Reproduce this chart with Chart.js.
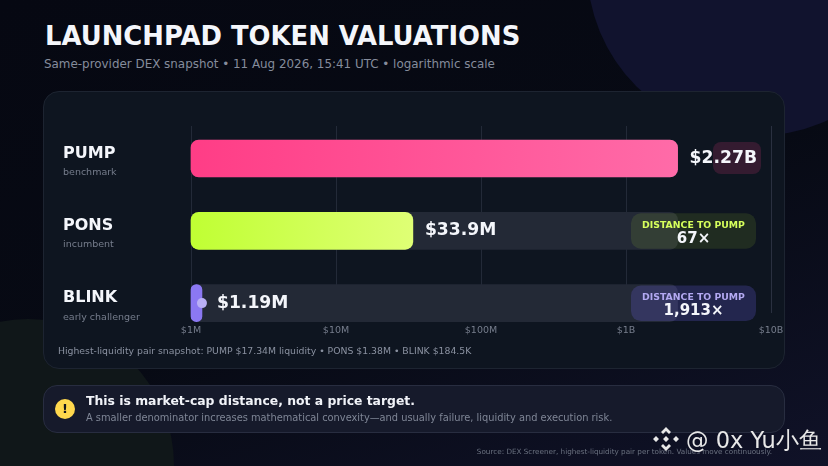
<!DOCTYPE html>
<html>
<head>
<meta charset="utf-8">
<style>
  html, body { margin: 0; padding: 0; }
  body { width: 828px; height: 466px; overflow: hidden; position: relative; background: linear-gradient(160deg, #060812 0%, #070a14 55%, #101228 100%); font-family: "DejaVu Sans", sans-serif; }
  .blob { position: absolute; border-radius: 50%; }
  .navy { left: 587px; top: -202px; width: 338px; height: 338px; background: #11132e; }
  .green { left: -118px; top: 319px; width: 292px; height: 292px; background: #101719; }
  .title { position: absolute; left: 45px; top: 21px; font-size: 25.85px; font-weight: bold; color: #f4f6fb; white-space: nowrap; }
  .sub { position: absolute; left: 44px; top: 57px; font-size: 11.92px; color: #858c9c; white-space: nowrap; }
  .card { position: absolute; left: 43px; top: 91px; width: 740px; height: 276px; background: #0e1520; border: 1px solid #1d2431; border-radius: 16px; }
  .callout { position: absolute; left: 43px; top: 385px; width: 740px; height: 46px; background: #161a2b; border: 1px solid #282d40; border-radius: 14px; }
  canvas { position: absolute; left: 0; top: 0; }
  .snap { position: absolute; left: 58px; top: 345px; font-size: 9.3px; color: #8a91a0; white-space: nowrap; }
  .warn { position: absolute; left: 55px; top: 399px; width: 20px; height: 20px; border-radius: 50%; background: #ffd84d; color: #14161f; font-size: 13px; font-weight: bold; line-height: 20px; text-align: center; }
  .c1 { position: absolute; left: 86px; top: 393px; font-size: 12.4px; font-weight: bold; color: #f1f3f8; white-space: nowrap; }
  .c2 { position: absolute; left: 86px; top: 412px; font-size: 9.83px; color: #7f8696; white-space: nowrap; }
  .src { position: absolute; right: 56px; top: 447px; font-size: 7.23px; color: #6b7280; white-space: nowrap; }
  .mark { position: absolute; left: 686px; top: 425px; font-size: 22.5px; color: #e8e8e8; white-space: nowrap; }
  .logo { position: absolute; left: 652px; top: 425px; }
</style>
</head>
<body>
<div class="blob navy"></div>
<div class="blob green"></div>
<div class="title">LAUNCHPAD TOKEN VALUATIONS</div>
<div class="sub">Same-provider DEX snapshot • 11 Aug 2026, 15:41 UTC • logarithmic scale</div>
<div class="card"></div>
<div class="callout"></div>
<canvas id="chart" width="828" height="466"></canvas>
<div class="snap">Highest-liquidity pair snapshot: PUMP $17.34M liquidity • PONS $1.38M • BLINK $184.5K</div>
<div class="warn">!</div>
<div class="c1">This is market-cap distance, not a price target.</div>
<div class="c2">A smaller denominator increases mathematical convexity—and usually failure, liquidity and execution risk.</div>
<div class="src">Source: DEX Screener, highest-liquidity pair per token. Values move continuously.</div>
<svg class="logo" width="28" height="28" viewBox="0 0 28 28" fill="#e8e8e8">
  <path d="M14 2l5 5-2 2-3-3-3 3-2-2zM14 26l5-5-2-2-3 3-3-3-2 2zM4 11l3 3-3 3-3-3zM24 11l3 3-3 3-3-3zM14 11l3 3-3 3-3-3z"/>
</svg>
<div class="mark">@ 0x Yu小鱼</div>
<script src="https://cdn.jsdelivr.net/npm/chart.js@4"></script>
<script>
const tokens = ['PUMP', 'PONS', 'BLINK'];
const roles = ['benchmark', 'incumbent', 'early challenger'];
const caps = [2270000000, 33900000, 1190000];
const capLabels = ['$2.27B', '$33.9M', '$1.19M'];
const track = [2270000000, 2270000000, 2270000000];
const distance = ['', '67×', '1,913×'];
const tickValues = [1e6, 1e7, 1e8, 1e9, 1e10];
const tickLabels = ['$1M', '$10M', '$100M', '$1B', '$10B'];

const PUMP = ['#ff3d86', '#ff6ba8'], PONS = ['#c0ff33', '#dfff75'], BLINK = ['#8b78f2', '#8b78f2'];
const palette = [PUMP, PONS, BLINK];
const GRID_TOP = 126, GRID_BOTTOM = 313;

function rr(ctx, x, y, w, h, r) {
  ctx.beginPath();
  ctx.roundRect(x, y, w, h, r);
}

// gridlines are shorter than the plot, so they are stroked here from the x scale
const gridLines = {
  id: 'gridLines',
  beforeDatasetsDraw(chart) {
    const { ctx, scales: { x } } = chart;
    ctx.save();
    tickValues.forEach((v, i) => {
      const px = Math.round(x.getPixelForValue(v)) + 0.5;
      ctx.strokeStyle = i === 4 ? '#2a3040' : '#232a38';
      ctx.lineWidth = 1;
      ctx.beginPath();
      ctx.moveTo(px, GRID_TOP);
      ctx.lineTo(px, GRID_BOTTOM);
      ctx.stroke();
    });
    ctx.restore();
  }
};

const rowText = {
  id: 'rowText',
  afterDatasetsDraw(chart) {
    const { ctx, scales: { x, y } } = chart;
    ctx.save();
    ctx.textBaseline = 'middle';
    tokens.forEach((name, i) => {
      const cy = y.getPixelForValue(i);
      ctx.textAlign = 'left';
      ctx.fillStyle = '#f4f6fb';
      ctx.font = 'bold 16px "DejaVu Sans"';
      ctx.fillText(name, 63, cy - 5);
      ctx.fillStyle = '#767d8c';
      ctx.font = '9.5px "DejaVu Sans"';
      ctx.fillText(roles[i], 63, cy + 14);

      const vx = x.getPixelForValue(caps[i]);

      // badges behind the value text
      if (i === 0) {
        ctx.fillStyle = 'rgba(255,61,134,0.16)';
        rr(ctx, 713, cy - 16.5, 48, 32, 8);
        ctx.fill();
      } else {
        ctx.fillStyle = i === 1 ? 'rgba(192,255,51,0.10)' : 'rgba(112,100,240,0.22)';
        rr(ctx, 631, cy - 17.5, 125, 35.5, 10);
        ctx.fill();
        ctx.textAlign = 'center';
        ctx.fillStyle = i === 1 ? '#d6ff5c' : '#b3a9f2';
        ctx.font = 'bold 9.3px "DejaVu Sans"';
        ctx.fillText('DISTANCE TO PUMP', 693.5, cy - 5.5);
        ctx.fillStyle = '#f4f6fb';
        ctx.font = 'bold 15px "DejaVu Sans"';
        ctx.fillText(distance[i], 693.5, cy + 8);
      }

      if (i === 2) {
        ctx.fillStyle = '#b9aff5';
        ctx.beginPath();
        ctx.arc(vx, cy, 5, 0, Math.PI * 2);
        ctx.fill();
      }

      ctx.textAlign = 'left';
      ctx.fillStyle = '#f4f6fb';
      ctx.font = 'bold 17.2px "DejaVu Sans"';
      ctx.fillText(capLabels[i], vx + (i === 2 ? 15 : 12), cy);
    });
    ctx.restore();
  }
};

function barFill(ctx) {
  const { chart, dataIndex } = ctx;
  const colors = palette[dataIndex];
  if (!chart.chartArea) return colors[0];
  const x = chart.scales.x;
  const g = chart.ctx.createLinearGradient(x.getPixelForValue(1e6), 0, x.getPixelForValue(caps[dataIndex]), 0);
  g.addColorStop(0, colors[0]);
  g.addColorStop(1, colors[1]);
  return g;
}

new Chart(document.getElementById('chart'), {
  type: 'bar',
  data: {
    labels: tokens,
    datasets: [
      {
        label: 'Market cap',
        data: caps,
        order: 1,
        clip: false,
        backgroundColor: barFill,
        borderWidth: 0,
        borderRadius: 8,
        borderSkipped: false,
        barThickness: 37
      },
      {
        label: 'Distance track',
        data: track,
        order: 2,
        clip: false,
        backgroundColor: '#232936',
        borderWidth: 0,
        borderRadius: 8,
        borderSkipped: false,
        barThickness: 37
      }
    ]
  },
  options: {
    indexAxis: 'y',
    responsive: false,
    animation: false,
    // first and last rows sit on the plot edges, bars hang over with clip off
    layout: { padding: { left: 191, right: 57, top: 158.5, bottom: 108.5 } },
    plugins: { legend: { display: false }, tooltip: { enabled: false } },
    scales: {
      x: {
        type: 'logarithmic',
        min: 1e6,
        max: 1e10,
        grid: { display: false, drawTicks: false },
        border: { display: false },
        afterBuildTicks: axis => { axis.ticks = tickValues.map(value => ({ value })); },
        afterFit: axis => { axis.paddingLeft = 0; axis.paddingRight = 0; },
        ticks: {
          color: '#767d8c',
          font: { family: '"DejaVu Sans"', size: 9.5 },
          autoSkip: false,
          maxRotation: 0,
          padding: 21.5,
          callback: (v, i) => tickLabels[i]
        }
      },
      y: {
        display: false,
        offset: false
      }
    },
    datasets: { bar: { grouped: false } }
  },
  plugins: [gridLines, rowText]
});
</script>
</body>
</html>
